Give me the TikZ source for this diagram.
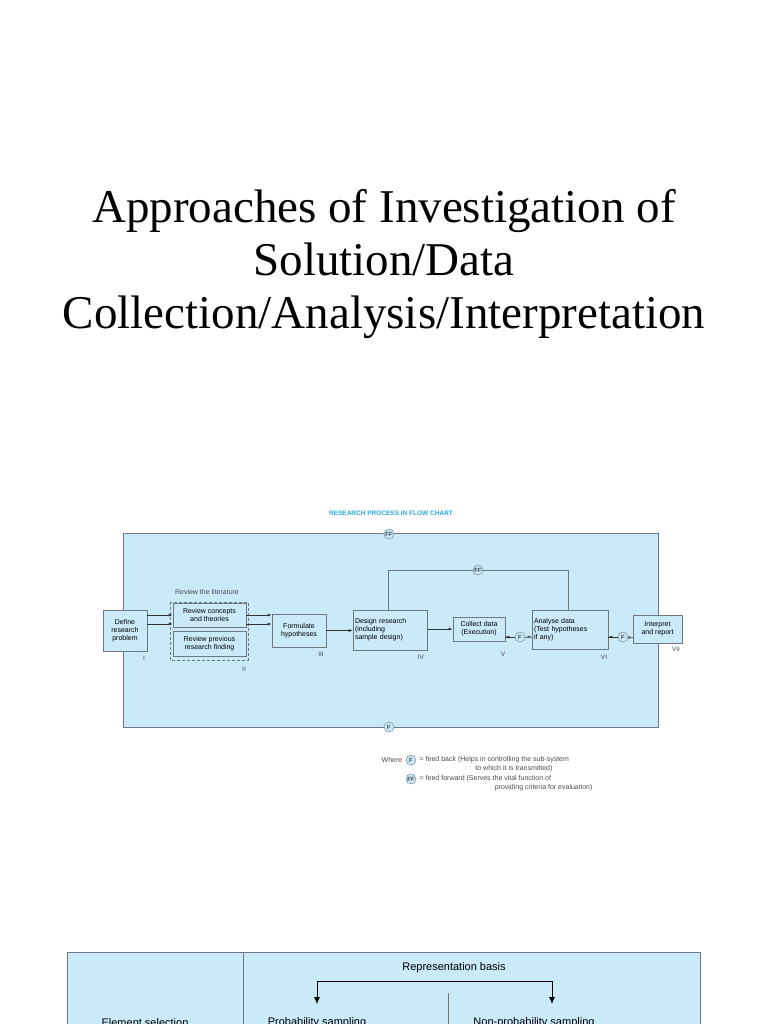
\documentclass[tikz,border=0pt]{standalone}
\usepackage{fontspec}
\setmainfont{Liberation Sans}
\newfontfamily\titlefont{Liberation Serif}
\usetikzlibrary{arrows.meta}
\definecolor{bgblue}{RGB}{202,233,249}
\definecolor{edge}{RGB}{110,120,125}
\definecolor{ttl}{RGB}{40,170,225}
\begin{document}
\begin{tikzpicture}[x=1pt,y=-1pt,
  box/.style={draw=edge,fill=bgblue,line width=0.6pt,inner sep=1pt,font=\fontsize{7}{8}\selectfont,align=center},
  circ/.style={draw=edge,fill=bgblue,circle,inner sep=0.5pt,minimum size=10pt,font=\fontsize{6}{6}\selectfont},
  lab/.style={font=\fontsize{6.5}{7.5}\selectfont,text=black!70},
  arr/.style={-{Latex[length=4pt,width=3pt]},line width=0.6pt,draw=black!80},
  bigarr/.style={-{Latex[length=7pt,width=6pt]},line width=0.8pt},
  ln/.style={line width=0.6pt,draw=edge}]
\useasboundingbox (0,0) rectangle (768,1024);
\fill[white] (0,0) rectangle (768,1024);
% title
\node[font=\titlefont\fontsize{47}{53}\selectfont,align=center] (title) at (384,264) {Approaches of Investigation of\\Solution/Data\\Collection/Analysis/Interpretation};
% chart
\node[font=\bfseries\fontsize{6.5}{7}\selectfont,text=ttl] (ctitle) at (391,513) {RESEARCH PROCESS IN FLOW CHART};
\draw[edge,fill=bgblue,line width=0.8pt] (123,533) rectangle (658,727);
\node[circ] (fftop) at (389,534) {FF};
\node[circ] (fbot) at (389,727) {F};
\node[box,minimum width=44pt,minimum height=41pt] (def) at (125,630.5) {Define\\research\\problem};
\node[lab] (l1) at (144,658) {I};
\draw[ln,densely dashed] (170,602) rectangle (248,660);
\node[lab,font=\fontsize{7}{8}\selectfont] (rl) at (207,592) {Review the literature};
\node[box,minimum width=73pt,minimum height=24pt] (rc) at (209.5,615) {Review concepts\\and theories};
\node[box,minimum width=73pt,minimum height=25pt] (rp) at (209.5,643.5) {Review previous\\research finding};
\node[lab] (l2) at (244,669) {II};
\node[box,minimum width=54pt,minimum height=33pt] (form) at (299,630.5) {Formulate\\hypotheses};
\node[lab] (l3) at (321,654) {III};
\node[box,minimum width=74pt,minimum height=40pt,align=left,text width=70pt] (des) at (390,630) {Design research\\(including\\sample design)};
\node[lab] (l4) at (421,657) {IV};
\node[box,minimum width=52pt,minimum height=24pt] (col) at (479,629) {Collect data\\(Execution)};
\node[lab] (l5) at (503,654) {V};
\node[box,minimum width=76pt,minimum height=39pt,align=left,text width=72pt] (ana) at (570,629.5) {Analyse data\\(Test hypotheses\\if any)};
\node[lab] (l6) at (604,657) {VI};
\node[box,minimum width=49pt,minimum height=28pt] (int) at (657.5,629) {Interpret\\and report};
\node[lab] (l7) at (676,649) {VII};
% arrows
\draw[arr] (def.east|-rc) -- (rc.west);
\draw[arr] ([yshift=6.5pt]def.east) -- ([yshift=6.5pt]def.east-|rp.west);
\draw[arr] (rc.east) -- (rc.east-|form.west);
\draw[arr] ([yshift=6.5pt]form.west-|rp.east) -- ([yshift=6.5pt]form.west);
\draw[arr] (form.east) -- (form.east-|des.west);
\draw[arr] (des.east|-col) -- (col.west);
\draw[arr] ([yshift=-8pt]col.east) -- ([yshift=-8pt]col.east-|ana.west);
\node[circ] (f1) at (520,637) {F};
\draw[ln] (ana.west|-f1) -- (f1.east);
\draw[arr] (f1.west) -- (f1-|col.east);
\draw[arr] ([yshift=-8pt]ana.east) -- ([yshift=-8pt]ana.east-|int.west);
\node[circ] (f2) at (623,637) {F};
\draw[ln] (int.west|-f2) -- (f2.east);
\draw[arr] (f2.west) -- (f2-|ana.east);
\node[circ] (ff2) at (478,570) {FF};
\draw[ln] (des.north-|388,0) |- (ff2.west);
\draw[ln] (ff2.east) -| (ana.north-|568,0);
% legend
\node[circ] (lf) at (411,760) {F};
\node[lab,anchor=east,font=\fontsize{7}{8}\selectfont] (lw) at (lf.west) {Where};
\node[lab,anchor=west,font=\fontsize{7}{8}\selectfont] (lt1) at (lf.east) {= feed back (Helps in controlling the sub-system};
\node[lab,anchor=east,font=\fontsize{7}{8}\selectfont] (lt2) at (556,769) {to which it is transmitted)};
\node[circ] (lff) at (411,779) {FF};
\node[lab,anchor=west,font=\fontsize{7}{8}\selectfont] (lt3) at (lff.east) {= feed forward (Serves the vital function of};
\node[lab,anchor=east,font=\fontsize{7}{8}\selectfont] (lt4) at (596,788) {providing criteria for evaluation)};
% bottom table
\draw[edge,fill=bgblue,line width=0.8pt] (67,952) rectangle (700,1040);
\draw[edge,line width=0.8pt] (243,952) -- (243,1030);
\node[font=\fontsize{11}{13}\selectfont] (rb) at (454,968) {Representation basis};
\coordinate (bl) at (317,981);
\coordinate (br) at (552,981);
\draw[line width=0.8pt] (bl) -- (br);
\coordinate (al) at (317,1004);
\coordinate (ar) at (552,1004);
\draw[bigarr] (bl) -- (al);
\draw[bigarr] (br) -- (ar);
\draw[edge,line width=0.6pt] (448,993) -- (448,1030);
\node[font=\fontsize{11}{13}\selectfont] (es) at (145,1023) {Element selection};
\node[font=\fontsize{11}{13}\selectfont] (ps) at (317,1023) {Probability sampling};
\node[font=\fontsize{11}{13}\selectfont] (nps) at (534,1023) {Non-probability sampling};
\end{tikzpicture}
\end{document}
